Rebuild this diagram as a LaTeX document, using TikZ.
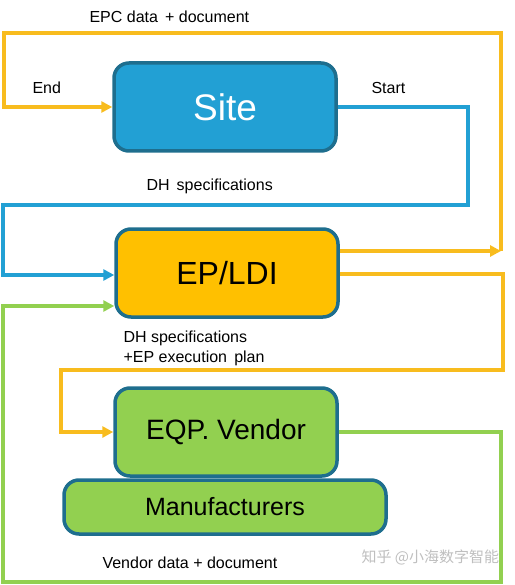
\documentclass[tikz,border=0pt]{standalone}
\usepackage{fontspec}
\setmainfont{Liberation Sans}
\newfontfamily\cjk{Noto Sans CJK SC}
\usetikzlibrary{arrows.meta}
\definecolor{azul}{HTML}{22A0D4}
\definecolor{amarelo}{HTML}{FFC000}
\definecolor{linhaamarela}{HTML}{F8BC1E}
\definecolor{verde}{HTML}{92D050}
\definecolor{borda}{HTML}{1E6E8E}
\begin{document}
\begin{tikzpicture}[x=1pt, y=-1pt,
    caixa/.style={draw=borda, line width=3.5pt, rounded corners=15pt, minimum width=222pt, minimum height=88pt},
    linha/.style={line width=3.5pt, line join=miter},
    seta/.style={-{Triangle[length=11pt, width=11pt]}},
    rotulo/.style={anchor=west, font=\fontsize{16}{20}\selectfont}]
    \useasboundingbox (0,0) rectangle (514,585);

    % Caixas
    \node[caixa, fill=azul, text=white, font=\fontsize{37}{40}\selectfont] (site) at (225,107) {Site};
    \node[caixa, fill=amarelo, font=\fontsize{32}{36}\selectfont] (ep) at (227,273) {EP/LDI};
    \node[caixa, fill=verde, minimum width=322pt, minimum height=54pt, font=\fontsize{25}{28}\selectfont] (manuf) at (225,507) {Manufacturers};
    \node[caixa, fill=verde, font=\fontsize{28}{32}\selectfont] (eqp) at (226,432) {EQP. Vendor};

    % Pontos de canto
    \coordinate (r1) at (501,251);
    \coordinate (r2) at (503,370);
    \coordinate (r3) at (468,205);
    \coordinate (r4) at (501,582);

    % Setas amarelas
    \draw[linha, linhaamarela, seta] ([yshift=22pt]ep.east) -- (r1);
    \draw[linha, linhaamarela, seta] (r1) |- (4,33) |- (site.west);
    \draw[linha, linhaamarela, seta] ([yshift=-1pt]ep.east) -| (r2) -- (61,370) |- (eqp.west);

    % Seta azul
    \draw[linha, azul, seta] (site.east) -| (r3) -- (3,205) |- ([yshift=-2pt]ep.west);

    % Seta verde
    \draw[linha, verde, seta] (eqp.east) -| (r4) -- (3,582) |- ([yshift=-33pt]ep.west);

    % Textos
    \node[rotulo] (epc) at (86,17) {EPC data\, + document};
    \node[rotulo] (fim) at (29,88) {End};
    \node[rotulo] (inicio) at (368,88) {Start};
    \node[rotulo] (dh) at (143,186) {DH\, specifications};
    \node[rotulo, align=left] (plano) at (120,348) {DH specifications\\+EP execution\, plan};
    \node[rotulo] (vendor) at (99,563) {Vendor data + document};
    \node[anchor=west, text=black!25, font=\cjk\fontsize{15}{18}\selectfont] (marca) at (358,557) {知乎 @小海数字智能};
\end{tikzpicture}
\end{document}
